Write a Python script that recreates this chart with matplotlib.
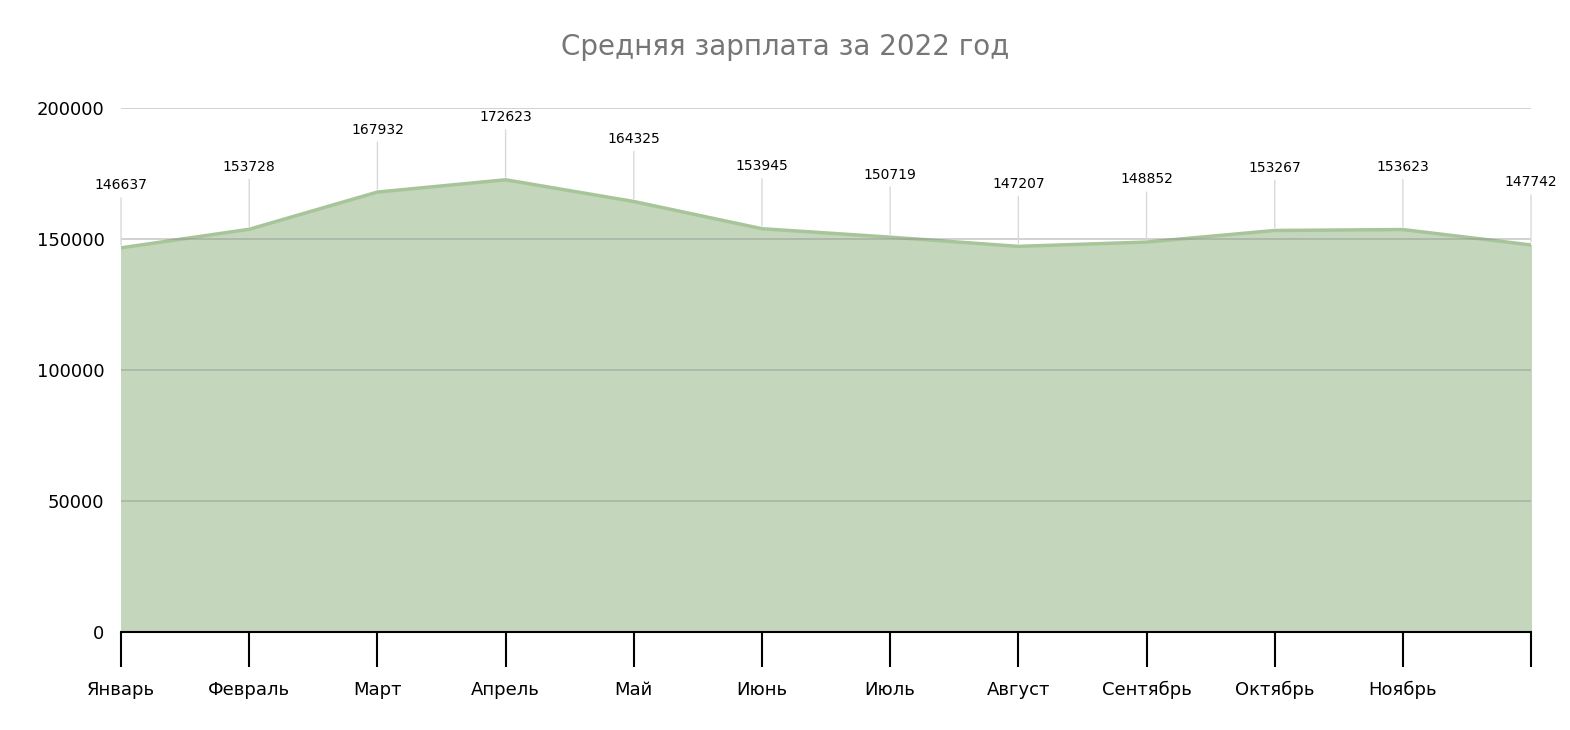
import numpy as np
import matplotlib.pyplot as plt

months = ['Январь', 'Февраль', 'Март', 'Апрель', 'Май', 'Июнь', 'Июль',
          'Август', 'Сентябрь', 'Октябрь', 'Ноябрь', 'Декабрь']
salary = [146637, 153728, 167932, 172623, 164325, 153945, 150719,
          147207, 148852, 153267, 153623, 147742]

x = np.arange(len(months))

fig = plt.figure(figsize=(15.7, 7.3), dpi=100)
ax = fig.add_axes([0.0771, 0.1342, 0.8981, 0.7178])

ax.fill_between(x, salary, 0, color='#c4d6bb', zorder=1)
ax.plot(x, salary, color='#a8c59a', lw=2.5, zorder=2)

# gridlines over the area
for g in [50000, 100000, 150000, 200000]:
    ax.axhline(g, color='#8c8c8c', alpha=0.45, lw=1.2, zorder=3)

ax.set_xlim(0, 11)
ax.set_ylim(0, 200000)
ax.set_yticks([0, 50000, 100000, 150000, 200000])
ax.set_yticklabels(['0', '50000', '100000', '150000', '200000'], fontsize=13)
ax.tick_params(axis='y', length=0, pad=12)

ax.set_xticks(x)
ax.set_xticklabels(months[:11] + [''], fontsize=13)
ax.tick_params(axis='x', length=25, width=1.5, color='black', pad=10)

for s in ['top', 'right', 'left']:
    ax.spines[s].set_visible(False)
ax.spines['bottom'].set_linewidth(1.5)

# data labels with leader lines
for xi, v in zip(x, salary):
    ax.annotate(str(v), xy=(xi, v), xytext=(0, 40), textcoords='offset points',
                ha='center', va='bottom', fontsize=10, color='black',
                annotation_clip=False, zorder=5)
    ax.annotate('', xy=(xi, v), xytext=(0, 38), textcoords='offset points',
                arrowprops=dict(arrowstyle='-', color='#d9d9d9', lw=1),
                annotation_clip=False, zorder=4)

fig.suptitle('Средняя зарплата за 2022 год', y=0.955, fontsize=20, color='#767676')

fig.savefig('out.png', dpi=100)
